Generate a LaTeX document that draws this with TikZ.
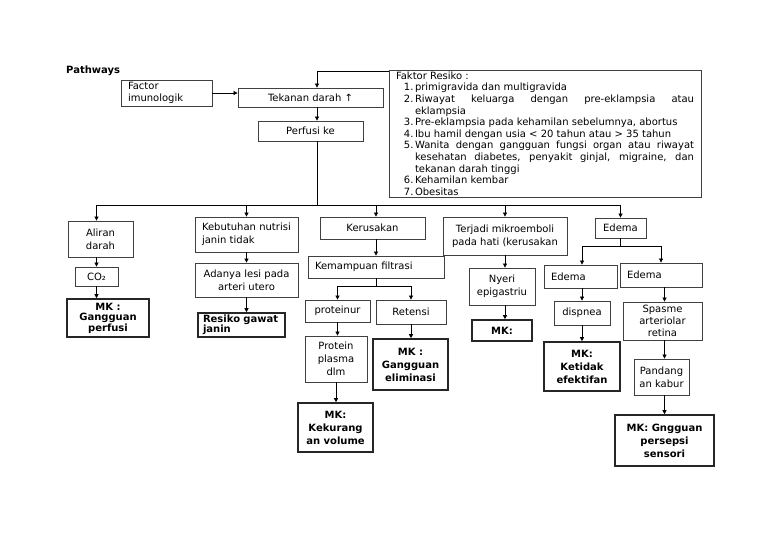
\documentclass[tikz,border=0pt]{standalone}
\usepackage{fontspec}
\setmainfont{DejaVu Sans}
\usetikzlibrary{arrows.meta}
\begin{document}
\begin{tikzpicture}[x=1pt,y=-1pt,
  box/.style={draw=black!75,line width=0.8pt,inner sep=1pt,align=center,font=\fontsize{10}{13}\selectfont},
  lbox/.style={box,align=left,inner xsep=7pt},
  mk/.style={box,draw=black!85,line width=1.6pt,font=\fontsize{10}{13}\selectfont\bfseries},
  arr/.style={-{Triangle[length=4pt,width=4pt]},line width=0.7pt}]
\useasboundingbox (0,0) rectangle (768,543);
%title
\node[anchor=west,inner sep=0pt,font=\fontsize{10}{12}\selectfont\bfseries] (title) at (66,71) {Pathways};
%top
\node[lbox,text width=77pt,minimum height=26pt,font=\fontsize{10}{12}\selectfont] (factor) at (166.5,93) {Factor\\imunologik};
\node[box,minimum width=145pt,minimum height=19pt] (tekanan) at (310.5,97.5) {Tekanan darah ↑};
\node[box,minimum width=105pt,minimum height=20pt] (perfusi) at (310.5,131) {Perfusi ke};
\node[box,align=justify,inner xsep=7pt,inner ysep=0pt,text width=298pt,minimum height=127pt,font=\fontsize{10}{11.6}\selectfont] (faktor) at (545,133.5) {Faktor Resiko :
\begin{list}{\arabic{enumi}.}{\usecounter{enumi}\setlength{\leftmargin}{19pt}\setlength{\labelwidth}{17pt}\setlength{\labelsep}{1.5pt}\setlength{\itemsep}{0pt}\setlength{\parsep}{0pt}\setlength{\topsep}{0pt}\setlength{\partopsep}{0pt}}
\item primigravida dan multigravida
\item Riwayat keluarga dengan pre-eklampsia atau\linebreak eklampsia
\item Pre-eklampsia pada kehamilan sebelumnya, abortus
\item Ibu hamil dengan usia < 20 tahun atau > 35 tahun
\item Wanita dengan gangguan fungsi organ atau riwayat\linebreak kesehatan diabetes, penyakit ginjal, migraine, dan\linebreak tekanan darah tinggi
\item Kehamilan kembar
\item Obesitas
\end{list}};
%column 1
\node[box,minimum width=65pt,minimum height=36pt] (aliran) at (100.5,239) {Aliran\\darah};
\node[box,minimum width=43pt,minimum height=19pt] (co2) at (96.5,276.5) {CO₂};
\node[mk,minimum width=82pt,minimum height=38pt,font=\fontsize{10}{10.5}\selectfont\bfseries] (mkperfusi) at (108,318) {MK :\\Gangguan\\perfusi};
%column 2
\node[lbox,text width=89pt,minimum height=35pt] (nutrisi) at (246.5,234.5) {Kebutuhan nutrisi\\janin tidak};
\node[box,minimum width=103pt,minimum height=34pt] (lesi) at (246.5,280) {Adanya lesi pada\\arteri utero};
\node[mk,align=left,inner xsep=5pt,inner ysep=0pt,text width=77pt,minimum height=24pt,font=\fontsize{10}{10.5}\selectfont\bfseries] (janin) at (241.5,325) {Resiko gawat\\janin};
%column 3
\node[box,minimum width=105pt,minimum height=22pt] (kerusakan) at (372.5,228) {Kerusakan};
\node[lbox,text width=122pt,minimum height=22pt] (filtrasi) at (376,267) {Kemampuan filtrasi};
\node[box,minimum width=65pt,minimum height=22pt] (proteinur) at (337.5,311) {proteinur};
\node[box,minimum width=70pt,minimum height=24pt] (retensi) at (411,312) {Retensi};
\node[box,minimum width=62pt,minimum height=46pt] (plasma) at (336,359) {Protein\\plasma\\dlm};
\node[mk,minimum width=75pt,minimum height=51pt] (mkeliminasi) at (410.5,364.5) {MK :\\Gangguan\\eliminasi};
\node[mk,minimum width=75pt,minimum height=49pt] (mkvolume) at (335.5,427.5) {MK:\\Kekurang\\an volume};
%column 4
\node[box,minimum width=124pt,minimum height=38pt] (terjadi) at (505,236) {Terjadi mikroemboli\\pada hati (kerusakan};
\node[box,minimum width=66pt,minimum height=37pt] (nyeri) at (502,286.5) {Nyeri\\epigastriu};
\node[mk,minimum width=60pt,minimum height=21pt] (mknyeri) at (502,330.5) {MK:};
%column 5
\node[box,minimum width=51pt,minimum height=20pt] (edema) at (620.5,228) {Edema};
\node[lbox,text width=59pt,minimum height=23pt] (edemaa) at (580.5,276.5) {Edema};
\node[lbox,text width=68pt,minimum height=24pt] (edemab) at (661,275) {Edema};
\node[box,minimum width=56pt,minimum height=24pt] (dispnea) at (582,313) {dispnea};
\node[mk,minimum width=76pt,minimum height=49pt] (mkdispnea) at (582,366.5) {MK:\\Ketidak\\efektifan};
\node[box,minimum width=79pt,minimum height=38pt,font=\fontsize{10}{12}\selectfont] (spasme) at (662.5,321) {Spasme\\arteriolar\\retina};
\node[box,minimum width=55pt,minimum height=36pt] (pandang) at (661.5,377) {Pandang\\an kabur};
\node[mk,minimum width=99pt,minimum height=51pt] (mksensori) at (664.5,440.5) {MK: Gngguan\\persepsi\\sensori};
%connectors
\coordinate (bus) at (317,205);
\coordinate (split1) at (376,286);
\coordinate (split2) at (620.5,246);
\draw[arr] ([yshift=-2pt]faktor.north west) -| (tekanan.north -| bus);
\draw[arr] (factor.east) -- (factor.east -| tekanan.west);
\draw[arr] (tekanan.south -| bus) -- (perfusi.north -| bus);
\draw (perfusi.south -| bus) -- (bus);
\draw (bus -| co2) -- (bus -| edema);
\foreach \n in {nutrisi,terjadi,edema} {\draw[arr] (bus -| \n) -- (\n.north);}
\draw[arr] (bus -| co2) -- (aliran.north -| co2);
\draw[arr] (aliran.south -| co2) -- (co2.north);
\draw[arr] (co2.south) -- (mkperfusi.north -| co2);
\draw[arr] (nutrisi.south) -- (lesi.north);
\draw[arr] (lesi.south) -- (janin.north -| lesi);
\draw[arr] (bus -| filtrasi) -- (kerusakan.north -| filtrasi);
\draw[arr] (kerusakan.south -| filtrasi) -- (filtrasi.north);
\draw (filtrasi.south) -- (split1);
\draw (split1 -| proteinur) -- (split1 -| retensi);
\draw[arr] (split1 -| proteinur) -- (proteinur.north);
\draw[arr] (split1 -| retensi) -- (retensi.north);
\draw[arr] (proteinur.south) -- (plasma.north -| proteinur);
\draw[arr] (plasma.south) -- (mkvolume.north -| plasma);
\draw[arr] (retensi.south) -- (mkeliminasi.north -| retensi);
\draw[arr] (terjadi.south) -- (nyeri.north -| terjadi);
\draw[arr] (nyeri.south -| terjadi) -- (mknyeri.north -| terjadi);
\draw (edema.south) -- (split2);
\draw (split2 -| dispnea) -- (split2 -| edemab);
\draw[arr] (split2 -| dispnea) -- (edemaa.north -| dispnea);
\draw[arr] (split2 -| edemab) -- (edemab.north);
\draw[arr] (edemaa.south -| dispnea) -- (dispnea.north);
\draw[arr] (dispnea.south) -- (mkdispnea.north);
\draw[arr] (edemab.south -| mksensori) -- (spasme.north -| mksensori);
\draw[arr] (spasme.south -| mksensori) -- (pandang.north -| mksensori);
\draw[arr] (pandang.south -| mksensori) -- (mksensori.north);
\end{tikzpicture}
\end{document}
